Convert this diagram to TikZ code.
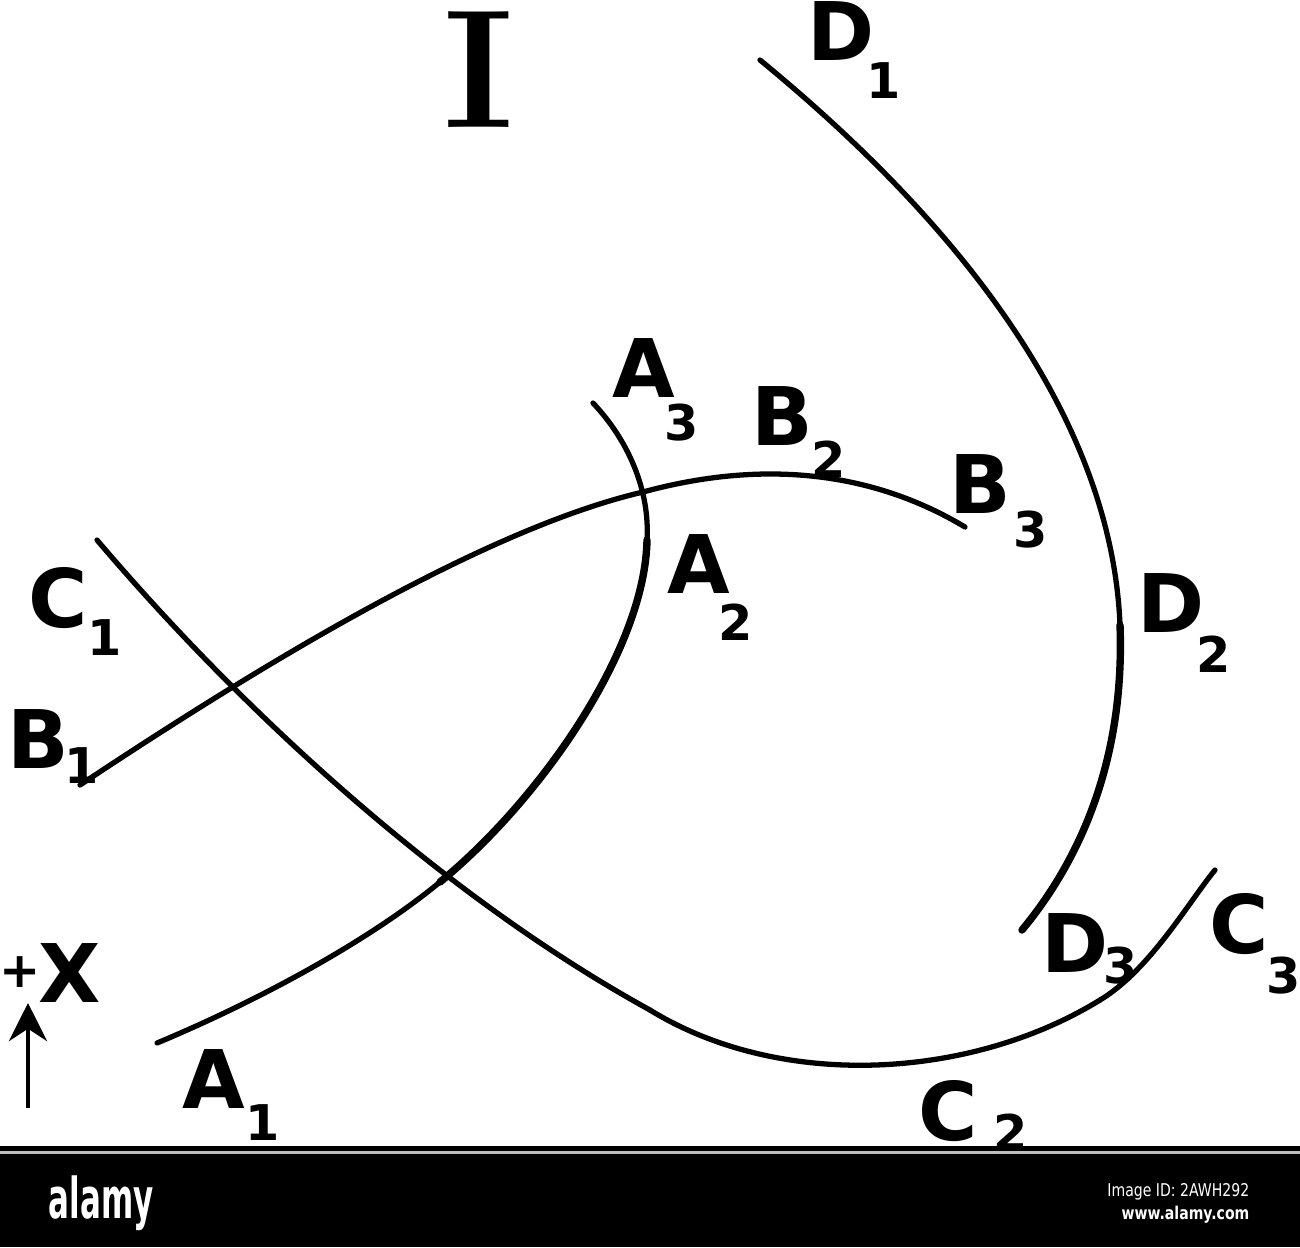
\documentclass[tikz,border=0pt]{standalone}
\usepackage{fontspec}
\setsansfont{DejaVu Sans}
\newfontfamily\logofont[FakeStretch=0.55]{DejaVu Sans}
\newfontfamily\idfont[FakeStretch=0.8]{DejaVu Sans}
\usetikzlibrary{arrows.meta}

\begin{document}
\begin{tikzpicture}[x=0.01cm, y=-0.01cm,
    curve/.style={line width=1.5pt, line cap=round, line join=round},
    heavy/.style={line width=2.1pt},
    letter/.style={anchor=base west, inner sep=0pt, font=\sffamily\bfseries\fontsize{23}{23}\selectfont},
    index/.style={anchor=base west, inner sep=0pt, font=\sffamily\bfseries\fontsize{14}{14}\selectfont}]
      \fill[white] (0,0) rectangle (1300,1247);
      \useasboundingbox (0,0) rectangle (1300,1247);
      \node[anchor=base, inner sep=0pt, font=\rmfamily\bfseries\fontsize{48}{48}\selectfont] (title) at (479,127) {I};
      % end and joining points of the four paths
      \coordinate (A1) at (157,1043);
      \coordinate (Aturn) at (647,540);
      \coordinate (Across) at (440,882);
      \coordinate (A3) at (593,403);
      \coordinate (B1) at (80,785);
      \coordinate (Bcross) at (643,492);
      \coordinate (B3) at (965,527);
      \coordinate (C1) at (97,540);
      \coordinate (Clow) at (650,1010);
      \coordinate (Crise) at (1100,1000);
      \coordinate (C3) at (1215,870);
      \coordinate (D1) at (760,60);
      \coordinate (Dside) at (1120,625);
      \coordinate (D3) at (1022,930);
      \begin{scope}[curve]
        \draw (A3) .. controls (628,440) and (650,490) .. (Aturn);
        \draw[heavy] (Aturn) .. controls (645,650) and (540,800) .. (Across);
        \draw (Across) .. controls (370,940) and (260,1000) .. (A1);
        \draw (B1) .. controls (250,672) and (480,530) .. (Bcross);
        \draw (Bcross) .. controls (760,460) and (870,470) .. (B3);
        \draw (C1) .. controls (250,720) and (450,900) .. (Clow);
        \draw (Clow) .. controls (780,1090) and (970,1080) .. (Crise);
        \draw (Crise) .. controls (1150,970) and (1190,900) .. (C3);
        \draw (D1) .. controls (900,175) and (1110,380) .. (Dside);
        \draw[heavy] (Dside) .. controls (1125,760) and (1080,860) .. (D3);
      \end{scope}
      \begin{scope}[every node/.style={letter}]
        \node (labD1) at (807,60) {D};
        \node (labA3) at (612,397) {A};
        \node (labB2) at (751,445) {B};
        \node (labB3) at (949,513) {B};
        \node (labA2) at (667,593) {A};
        \node (labC1) at (28,627) {C};
        \node (labB1) at (7,768) {B};
        \node (labD2) at (1137,632) {D};
        \node (labD3) at (1041,972) {D};
        \node (labC3) at (1209,953) {C};
        \node (labA1) at (182,1108) {A};
        \node (labC2) at (918,1140) {C};
        \node (labX) at (38,1002) {X};
      \end{scope}
      \begin{scope}[every node/.style={index}]
        \node (subD1) at (866,98) {1};
        \node (subA3) at (664,440) {3};
        \node (subB2) at (811,477) {2};
        \node (subB3) at (1013,547) {3};
        \node (subA2) at (718,640) {2};
        \node (subC1) at (87,655) {1};
        \node (subB1) at (64,783) {1};
        \node (subD2) at (1196,672) {2};
        \node (subD3) at (1103,983) {3};
        \node (subC3) at (1266,993) {3};
        \node (subA1) at (245,1140) {1};
        \node (subC2) at (993,1150) {2};
        \node (plus) at (-1,987) {+};
      \end{scope}
      \coordinate (xfoot) at (28,1108);
      \coordinate (xtip) at (28,1003);
      \draw[line width=1.4pt, -{Stealth[length=0.38cm, width=0.38cm]}] (xfoot) -- (xtip);
      % strip at the foot
      \fill[black] (0,1146) rectangle (1300,1247);
      \fill[gray!50] (0,1151) rectangle (1300,1154);
      \node[anchor=base west, inner sep=0pt, white, font=\logofont\bfseries\fontsize{16}{16}\selectfont] (logo) at (48,1218) {alamy};
      \node[anchor=base east, inner sep=0pt, white, font=\idfont\fontsize{5}{5}\selectfont] (imgid) at (1250,1196) {Image ID: 2AWH292};
      \node[anchor=base east, inner sep=0pt, white, font=\idfont\bfseries\fontsize{5}{5}\selectfont] (site) at (1250,1219) {www.alamy.com};
    \end{tikzpicture}
\end{document}
